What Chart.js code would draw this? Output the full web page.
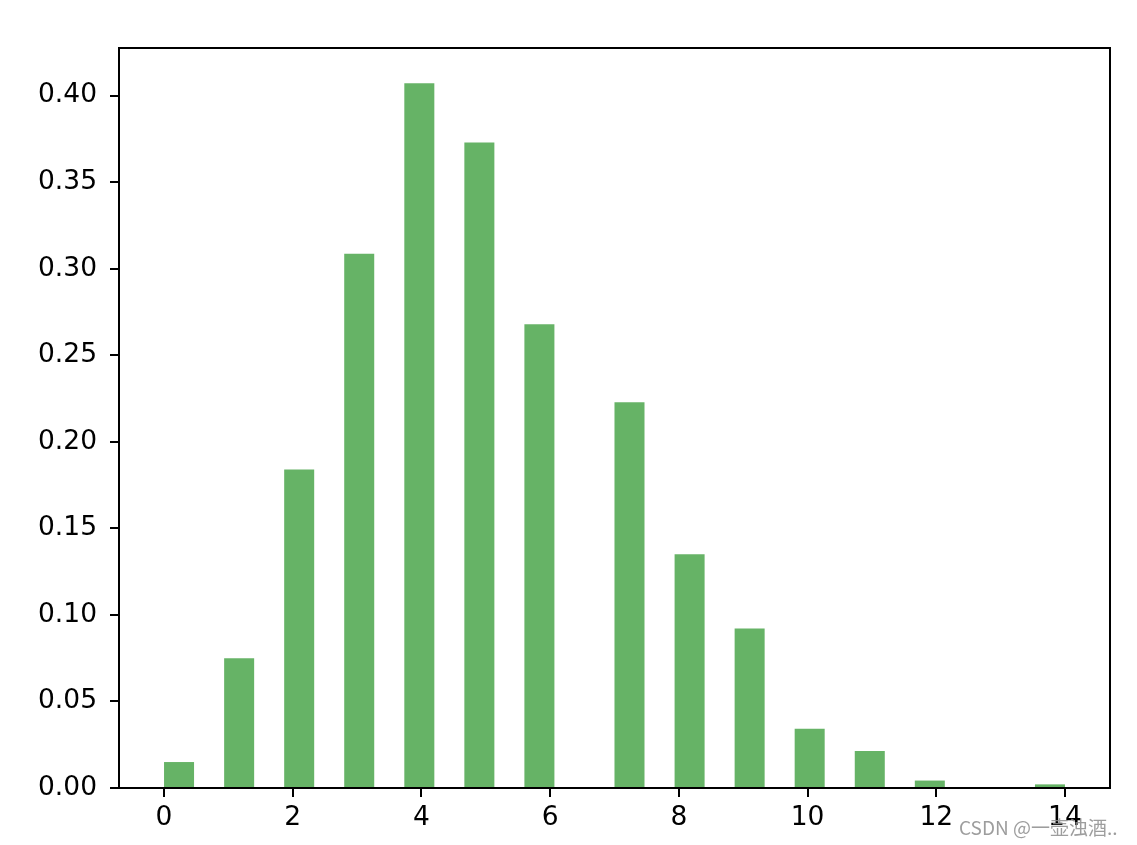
<!DOCTYPE html>
<html>
<head>
<meta charset="utf-8">
<script src="https://cdn.jsdelivr.net/npm/chart.js@4"></script>
<style>
  body { margin: 0; background: #fff; }
  #wrap { position: relative; width: 1137px; height: 845px; }
  #mark {
    position: absolute; left: 959px; top: 813px;
    font-family: "Noto Sans CJK SC", "Noto Sans", sans-serif;
    font-size: 19px; color: rgba(140, 140, 140, 0.85); white-space: nowrap;
  }
</style>
</head>
<body>
<div id="wrap">
  <canvas id="hist" width="1137" height="845"></canvas>
  <div id="mark">CSDN @一壶浊酒..</div>
</div>
<script>
// histogram bins (centre of each drawn bar) and their density
const binCenters = [0.233, 1.167, 2.1, 3.033, 3.967, 4.9, 5.833, 7.233, 8.167, 9.1, 10.033, 10.967, 11.9, 12.833, 13.767];
const density = [0.015, 0.075, 0.184, 0.3086, 0.4071, 0.3729, 0.2679, 0.2229, 0.135, 0.0921, 0.0343, 0.0214, 0.0043, 0, 0.0021];
const xTicks = [0, 2, 4, 6, 8, 10, 12, 14];
const yTicks = [0, 0.05, 0.1, 0.15, 0.2, 0.25, 0.3, 0.35, 0.4];

const tickFont = { family: 'DejaVu Sans', size: 26.5 };

const frame = {
    id: 'frame',
    afterDraw(chart) {
        const { ctx, chartArea: a } = chart;
        ctx.save();
        ctx.strokeStyle = '#000';
        ctx.lineWidth = 2;
        ctx.strokeRect(a.left, a.top, a.right - a.left, a.bottom - a.top);
        ctx.restore();
    }
};

new Chart(document.getElementById('hist').getContext('2d'), {
    type: 'bar',
    data: {
        datasets: [{
            data: binCenters.map((x, i) => ({ x: x, y: density[i] })),
            backgroundColor: 'rgba(0, 128, 0, 0.6)',
            borderWidth: 0,
            barPercentage: 0.5,
            categoryPercentage: 1.0
        }]
    },
    options: {
        responsive: false,
        animation: false,
        devicePixelRatio: 1,
        layout: { padding: { top: 48, right: 27, left: 0, bottom: 0 } },
        plugins: { legend: { display: false }, tooltip: { enabled: false } },
        scales: {
            x: {
                type: 'linear',
                min: -0.7,
                max: 14.7,
                offset: false,
                afterBuildTicks: (scale) => { scale.ticks = xTicks.map(v => ({ value: v })); },
                afterFit: (scale) => { scale.height = 57; },
                grid: { offset: false, drawOnChartArea: false, tickLength: 9, lineWidth: 2, tickWidth: 2, tickColor: '#000' },
                border: { display: false },
                ticks: { color: '#000', font: tickFont, padding: 5, maxRotation: 0 }
            },
            y: {
                min: 0,
                max: 0.4275,
                afterBuildTicks: (scale) => { scale.ticks = yTicks.map(v => ({ value: v })); },
                afterFit: (scale) => { scale.width = 119; },
                grid: { drawOnChartArea: false, tickLength: 9, lineWidth: 2, tickWidth: 2, tickColor: '#000' },
                border: { display: false },
                ticks: { color: '#000', font: tickFont, padding: 13, callback: (v) => v.toFixed(2) }
            }
        }
    },
    plugins: [frame]
});
</script>
</body>
</html>
